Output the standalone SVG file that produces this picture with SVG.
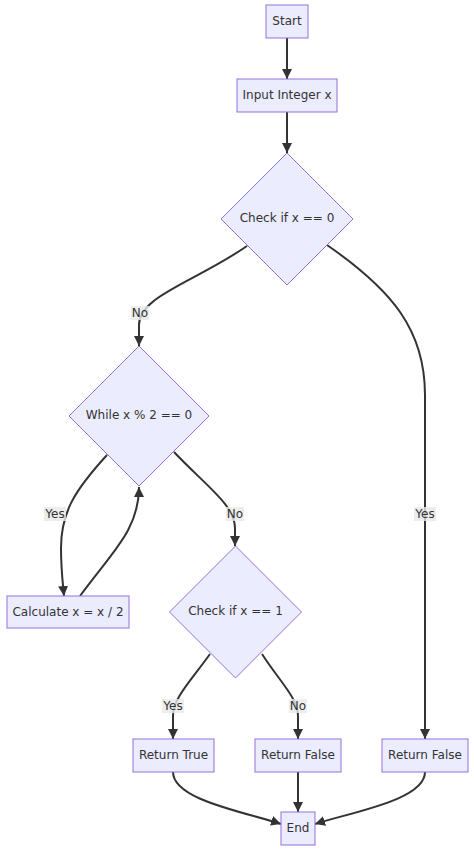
<svg xmlns="http://www.w3.org/2000/svg" width="474" height="852" viewBox="0 0 474 852">
<style>
.node rect,.node polygon{fill:#ECECFF;stroke:#9370DB;stroke-width:1}
.node text{font-family:"DejaVu Sans","Liberation Sans",sans-serif;font-size:12px;fill:#333;text-anchor:middle;dominant-baseline:central}
.edge{fill:none;stroke:#333;stroke-width:2}
.lbl rect{fill:#e8e8e8;opacity:0.8}
.lbl text{font-family:"DejaVu Sans","Liberation Sans",sans-serif;font-size:12px;fill:#333;text-anchor:middle;dominant-baseline:central}
</style>
<defs>
<marker id="arr" markerUnits="userSpaceOnUse" markerWidth="10" markerHeight="10" refX="10" refY="5" orient="auto">
<path d="M0,0 L10,5 L0,10 z" fill="#333"/>
</marker>
</defs>
<rect width="474" height="852" fill="#fff"/>
<g id="connectors">
<path class="edge" d="M287,38 L287,79" marker-end="url(#arr)"/>
<path class="edge" d="M287,112 L287,153" marker-end="url(#arr)"/>
<path class="edge" d="M247,246 C195,282 139,296 139,325 L139,346" marker-end="url(#arr)"/>
<path class="edge" d="M327,245 C392,290 425,330 425,395 L425,739" marker-end="url(#arr)"/>
<path class="edge" d="M107,455 C75,490 61,512 61,548 C61,570 63,585 64,596" marker-end="url(#arr)"/>
<path class="edge" d="M80,596 C112,552 139,530 139,487" marker-end="url(#arr)"/>
<path class="edge" d="M174,452 C205,485 235,505 235,528 L235,546" marker-end="url(#arr)"/>
<path class="edge" d="M210,654 C190,682 173,698 173,716 L173,739" marker-end="url(#arr)"/>
<path class="edge" d="M262,654 C280,682 298,698 298,716 L298,739" marker-end="url(#arr)"/>
<path class="edge" d="M173,772 C173,800 245,812 281,824" marker-end="url(#arr)"/>
<path class="edge" d="M298,772 L298,812" marker-end="url(#arr)"/>
<path class="edge" d="M425,772 C425,800 352,812 315,824" marker-end="url(#arr)"/>
<g class="lbl"><rect x="131" y="306" width="18" height="14"/><text x="140" y="313">No</text></g>
<g class="lbl"><rect x="44" y="507" width="22" height="14"/><text x="55" y="514">Yes</text></g>
<g class="lbl"><rect x="226" y="507" width="18" height="14"/><text x="235" y="514">No</text></g>
<g class="lbl"><rect x="414" y="507" width="22" height="14"/><text x="425" y="514">Yes</text></g>
<g class="lbl"><rect x="162" y="699" width="22" height="14"/><text x="173" y="706">Yes</text></g>
<g class="lbl"><rect x="289" y="699" width="18" height="14"/><text x="298" y="706">No</text></g>
</g>
<g id="start" class="node"><rect x="266" y="5" width="42" height="33"/><text x="287" y="21">Start</text></g>
<g id="input" class="node"><rect x="237" y="79" width="100" height="33"/><text x="287" y="95">Input Integer x</text></g>
<g id="check0" class="node"><polygon points="287,153 353,219 287,285 221,219"/><text x="287" y="218">Check if x == 0</text></g>
<g id="while" class="node"><polygon points="139,346 209,416 139,486 69,416"/><text x="139" y="415">While x % 2 == 0</text></g>
<g id="calc" class="node"><rect x="7" y="596" width="122" height="32"/><text x="68" y="611.5">Calculate x = x / 2</text></g>
<g id="check1" class="node"><polygon points="235.5,546 301.5,612 235.5,678 169.5,612"/><text x="235.5" y="611">Check if x == 1</text></g>
<g id="rettrue" class="node"><rect x="133" y="739" width="81" height="33"/><text x="173.5" y="755">Return True</text></g>
<g id="retfalse1" class="node"><rect x="255" y="739" width="86" height="33"/><text x="298" y="755">Return False</text></g>
<g id="retfalse2" class="node"><rect x="382" y="739" width="86" height="33"/><text x="425" y="755">Return False</text></g>
<g id="end" class="node"><rect x="281" y="812" width="34" height="33"/><text x="298" y="828">End</text></g>
</svg>
